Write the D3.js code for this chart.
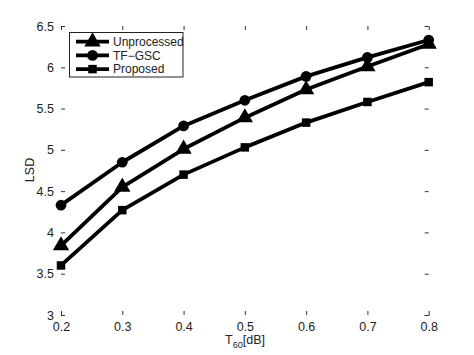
<!DOCTYPE html>
<html><head><meta charset="utf-8">
<script src="https://cdn.jsdelivr.net/npm/d3@7"></script>
<style>body{margin:0;background:#fff}svg{display:block}text{font-family:Arial,"Liberation Sans",Helvetica,sans-serif;fill:#222}</style>
</head><body><svg id="c" width="474" height="355"></svg>
<script>
const xValues = [0.2, 0.3, 0.4, 0.5, 0.6, 0.7, 0.8];
const unprocessed = [3.84, 4.55, 5.01, 5.39, 5.73, 6.01, 6.28];
const tfgsc = [4.33, 4.85, 5.29, 5.60, 5.89, 6.12, 6.33];
const proposed = [3.60, 4.27, 4.70, 5.03, 5.33, 5.58, 5.82];
const seriesNames = ["Unprocessed", "TF\u2212GSC", "Proposed"];
const xTicks = [0.2, 0.3, 0.4, 0.5, 0.6, 0.7, 0.8];
const yTicks = [3, 3.5, 4, 4.5, 5, 5.5, 6, 6.5];

const svg = d3.select("#c");
const L = 61, R = 428.7, T = 26, B = 315;
const x = d3.scaleLinear().domain([0.2, 0.8]).range([L, R]);
const y = d3.scaleLinear().domain([3, 6.5]).range([B, T]);

const series = [
  {name: seriesNames[0], vals: unprocessed, sym: d3.symbolTriangle, size: 115},
  {name: seriesNames[1], vals: tfgsc, sym: d3.symbolCircle, size: 90},
  {name: seriesNames[2], vals: proposed, sym: d3.symbolSquare, size: 72}
];

const axB = d3.axisBottom(x).tickValues(xTicks).tickSize(-4).tickPadding(7).tickFormat(d3.format(".1f"));
const axT = d3.axisTop(x).tickValues(xTicks).tickSize(-4).tickFormat("");
const axL = d3.axisLeft(y).tickValues(yTicks).tickSize(-4).tickPadding(7).tickFormat(d => d3.format("")(d));
const axR = d3.axisRight(y).tickValues(yTicks).tickSize(-4).tickFormat("");
function style(g){ g.select(".domain").attr("stroke","#333").attr("stroke-width",1.2);
  g.selectAll(".tick line").attr("stroke","#333");
  g.selectAll("text").attr("font-size",12.5).style("fill","#222"); }
svg.append("g").attr("transform",`translate(0,${B})`).call(axB).call(style);
svg.append("g").attr("transform",`translate(0,${T})`).call(axT).call(style);
svg.append("g").attr("transform",`translate(${L},0)`).call(axL).call(style);
svg.append("g").attr("transform",`translate(${R},0)`).call(axR).call(style);
svg.selectAll(".domain").attr("d", function(){ return d3.select(this).attr("d").replace(/V-?\d+(\.\d+)?H/,"H").replace(/H-?\d+(\.\d+)?V/,"V"); });

const line = d3.line().x((d,i)=>x(xValues[i])).y(d=>y(d));
series.forEach(s=>{
  svg.append("path").attr("d", line(s.vals)).attr("fill","none").attr("stroke","#000").attr("stroke-width",3.8).attr("stroke-linejoin","round");
  svg.selectAll(null).data(s.vals).enter().append("path")
    .attr("transform",(d,i)=>`translate(${x(xValues[i])},${y(d)})`)
    .attr("d", d3.symbol().type(s.sym).size(s.size)).attr("fill","#000");
});

const lg = svg.append("g");
lg.append("rect").attr("x",69.5).attr("y",32.5).attr("width",113.5).attr("height",44.5).attr("fill","#fff").attr("stroke","#222").attr("stroke-width",1);
series.forEach((s,i)=>{
  const yy = 41.7 + i*13.7;
  lg.append("line").attr("x1",76).attr("x2",109).attr("y1",yy).attr("y2",yy).attr("stroke","#000").attr("stroke-width",3.8);
  lg.append("path").attr("transform",`translate(92.5,${yy})`).attr("d",d3.symbol().type(s.sym).size(s.size)).attr("fill","#000");
  lg.append("text").attr("x",113).attr("y",yy+4.3).attr("font-size",12).text(s.name);
});

svg.append("text").attr("transform","translate(34,170) rotate(-90)").attr("text-anchor","middle").attr("font-size",12.5).text("LSD");
const xl = svg.append("text").attr("x",245).attr("y",344).attr("text-anchor","middle").attr("font-size",12.5);
xl.append("tspan").text("T");
xl.append("tspan").attr("font-size",9).attr("dy",4).text("60");
xl.append("tspan").attr("dy",-4).text("[dB]");
</script></body></html>
